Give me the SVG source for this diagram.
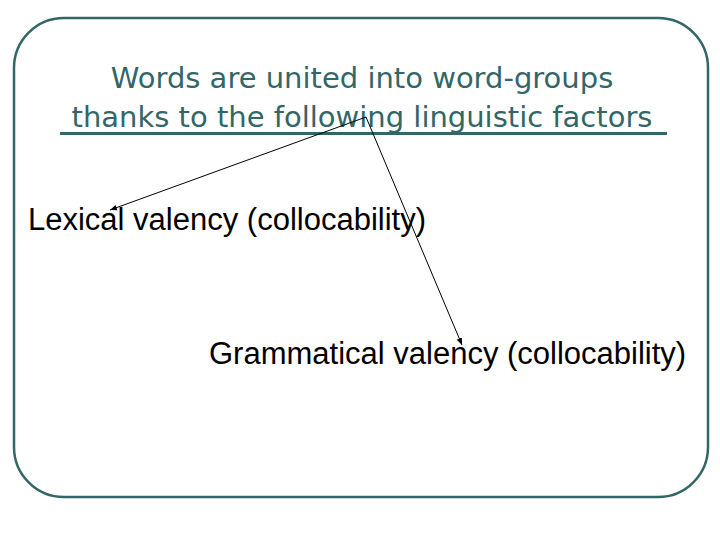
<svg xmlns="http://www.w3.org/2000/svg" width="720" height="540" viewBox="0 0 720 540">
  <style>
    .frame { fill: #ffffff; stroke: #336666; stroke-width: 2.5; }
    .title { font-family: "DejaVu Sans", sans-serif; font-size: 29px; fill: #336666; text-anchor: middle; }
    .label { font-family: "Liberation Sans", Arial, sans-serif; font-size: 31px; fill: #000000; }
    .conn { stroke: #000000; stroke-width: 1; fill: none; marker-end: url(#arrow); }
  </style>
  <defs>
    <marker id="arrow" viewBox="0 0 10 10" refX="10" refY="5" markerWidth="7" markerHeight="7" markerUnits="userSpaceOnUse" orient="auto">
      <path d="M0,1 L10,5 L0,9 Z" fill="#000000"/>
    </marker>
  </defs>
  <rect width="720" height="540" fill="#ffffff"/>
  <rect class="frame" x="14" y="18" width="694" height="479" rx="50" ry="50"/>
  <g id="title">
    <text class="title" x="362" y="88">Words are united into word-groups</text>
    <text class="title" x="362" y="127">thanks to the following linguistic factors</text>
    <line x1="60" y1="133.5" x2="667" y2="133.5" stroke="#336666" stroke-width="3"/>
  </g>
  <g id="lexical">
    <text class="label" x="28" y="230">Lexical valency (collocability)</text>
  </g>
  <g id="grammatical">
    <text class="label" x="209" y="364">Grammatical valency (collocability)</text>
  </g>
  <g id="connectors">
    <line class="conn" x1="366" y1="117" x2="110" y2="210"/>
    <line class="conn" x1="366" y1="117" x2="462" y2="345"/>
  </g>
</svg>
